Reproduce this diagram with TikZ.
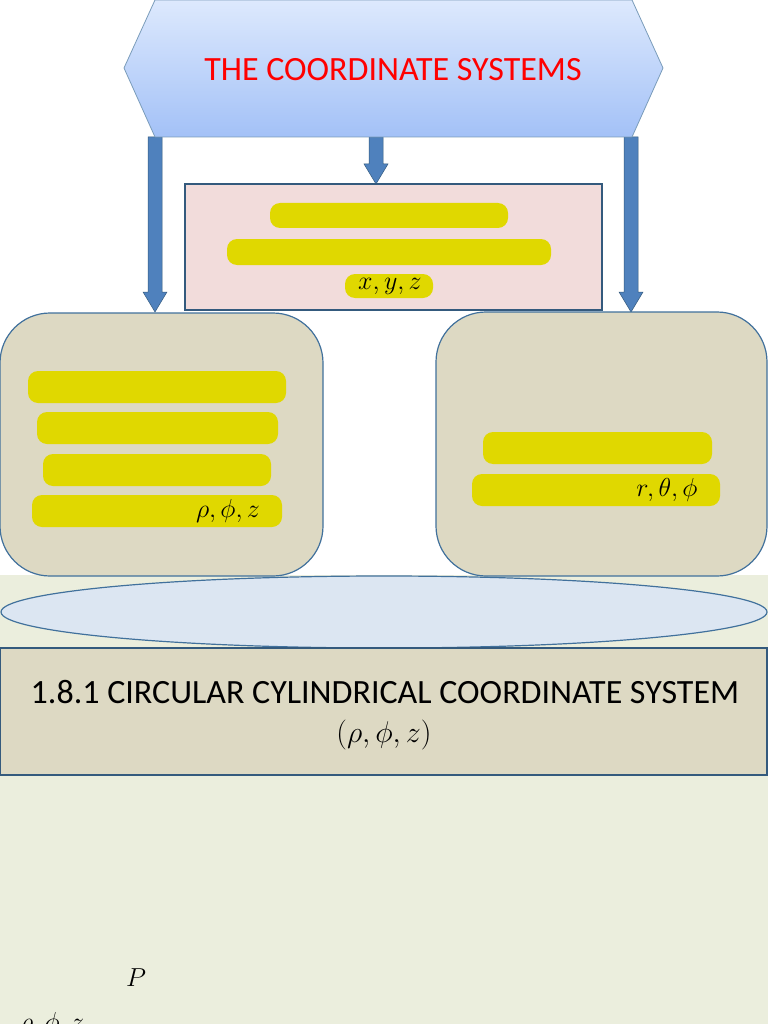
\RequirePackage{fix-cm}
\documentclass[tikz,border=0pt]{standalone}
\usepackage{fontspec}
\setmainfont{Carlito}
\usetikzlibrary{shapes.geometric}
\definecolor{bggreen}{HTML}{EBEEDD}
\definecolor{tan}{HTML}{DDD9C3}
\definecolor{pinkbox}{HTML}{F2DCDB}
\definecolor{edge}{HTML}{41719C}
\definecolor{arr}{HTML}{4F81BD}
\definecolor{hl}{HTML}{E0D800}
\definecolor{ell}{HTML}{DCE6F2}
\definecolor{hextop}{HTML}{DDE9FD}
\definecolor{hexbot}{HTML}{A3C1F7}
\tikzset{
 bar/.style={fill=hl,rounded corners=10pt,draw=none},
 boxs/.style={draw=edge,line width=1.2pt},
 blockarrow/.style={fill=arr,draw=edge!80!black,line width=0.5pt},
 lbl/.style={inner sep=0pt,font=\fontsize{26}{30}\selectfont}
}
\begin{document}
\begin{tikzpicture}[x=1pt,y=-1pt]
\useasboundingbox (0,0) rectangle (768,1024);
\fill[white] (0,0) rectangle (768,575);
\fill[bggreen] (0,575) rectangle (768,1024);
% arrows
\foreach \x/\ya/\yb in {155/137/312, 376/137/184, 631/137/312}{
 \draw[blockarrow] (\x-7,\ya) -- (\x+7,\ya) -- (\x+7,\yb-20) -- (\x+12,\yb-20) -- (\x,\yb) -- (\x-12,\yb-20) -- (\x-7,\yb-20) -- cycle;
}
% hexagon
\shade[top color=hextop,bottom color=hexbot,draw=edge!70,line width=0.8pt]
 (124,68) -- (155,0) -- (632,0) -- (663,68) -- (632,137) -- (155,137) -- cycle;
\node[lbl,text=red,font=\fontsize{34}{38}\selectfont] (title) at (393,70) {THE COORDINATE SYSTEMS};
% pink box
\draw[boxs,fill=pinkbox,draw=edge!80!black] (185,184) rectangle (602,310);
\fill[bar] (270,203) rectangle (508,228);
\fill[bar] (227,239) rectangle (551,265);
\fill[bar] (345,274) rectangle (433,298);
\node[lbl] (xyz) at (390,286) {$x,y,z$};
% left box
\draw[boxs,fill=tan,rounded corners=50pt] (0,313) rectangle (323,576);
\fill[bar] (28,371) rectangle (286,403);
\fill[bar] (37,412) rectangle (278,444);
\fill[bar] (43,454) rectangle (271,486);
\fill[bar] (32,495) rectangle (282,527);
\node[lbl] (cyl) at (228,511) {$\rho,\phi,z$};
% right box
\draw[boxs,fill=tan,rounded corners=50pt] (436,312) rectangle (767,576);
\fill[bar] (483,432) rectangle (712,464);
\fill[bar] (472,474) rectangle (720,506);
\node[lbl] (sph) at (667,490) {$r,\theta,\phi$};
% ellipse
\draw[boxs,fill=ell] (384,612) ellipse [x radius=383, y radius=36];
% section rect
\draw[boxs,fill=tan,draw=edge!80!black] (0,648) rectangle (767,775);
\node[lbl,font=\fontsize{34}{38}\selectfont] (sec) at (385,692) {1.8.1 CIRCULAR CYLINDRICAL COORDINATE SYSTEM};
\node[lbl,font=\fontsize{30}{34}\selectfont] (sec2) at (384,735) {$(\rho,\phi,z)$};
\node[lbl] (P) at (136,978) {$P$};
\node[lbl,anchor=west] (pc) at (20,1024) {$\rho,\phi,z$};
\end{tikzpicture}
\end{document}
